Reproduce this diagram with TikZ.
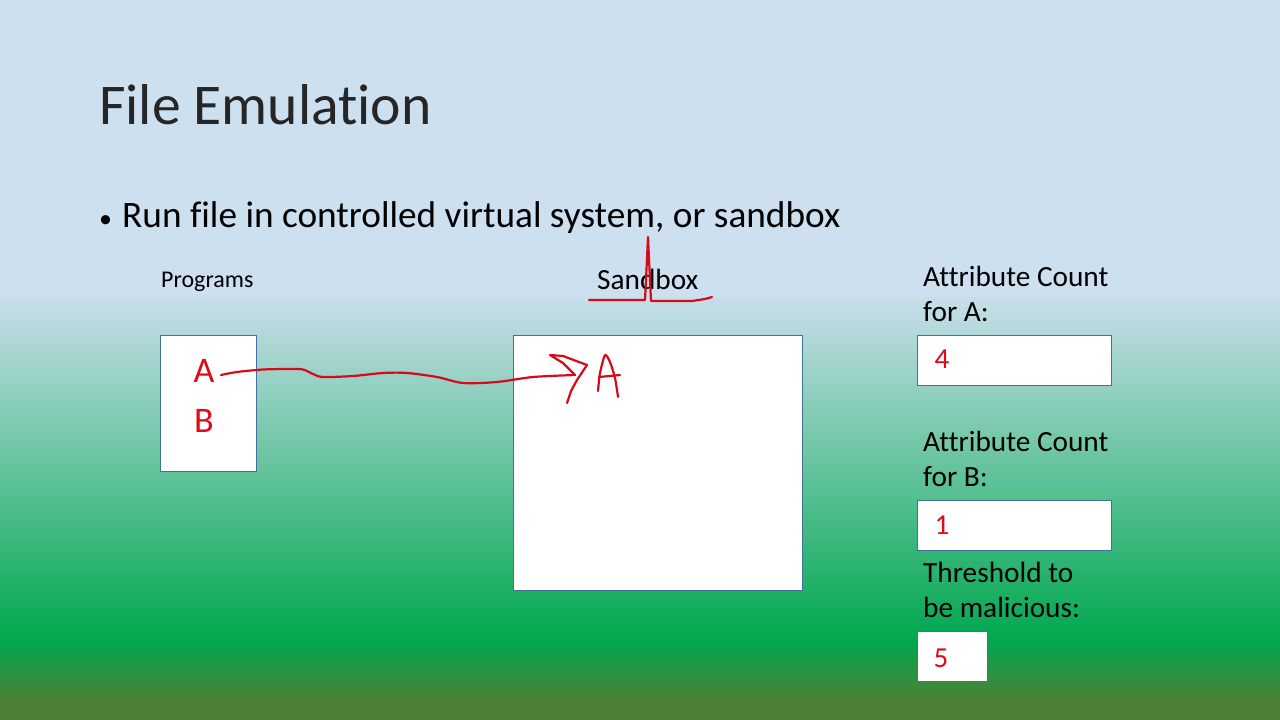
\documentclass[tikz,border=0pt]{standalone}
\usepackage{fontspec}
\setmainfont[RawFeature={-liga}]{Carlito}
\usetikzlibrary{positioning}
\definecolor{sky2}{RGB}{205, 224, 240}
\definecolor{sky3}{RGB}{200, 222, 234}
\definecolor{green2}{RGB}{0, 168, 79}
\definecolor{olive2}{RGB}{76, 128, 54}
\definecolor{edge2}{RGB}{65, 113, 156}
\definecolor{red2}{RGB}{225, 10, 25}
\definecolor{ink2}{RGB}{215, 10, 25}
\tikzset{
	panel/.style={draw=edge2, line width=1pt, fill=white, inner sep=0pt, anchor=north west},
	caption/.style={inner sep=0pt, anchor=base west, font=\fontsize{29.3}{35}\selectfont},
	value/.style={inner sep=0pt, anchor=base, text=red2, font=\fontsize{29}{35}\selectfont},
	letter/.style={inner sep=0pt, anchor=base, text=red2, font=\fontsize{36}{43}\selectfont},
	ink/.style={draw=ink2, line width=2.2pt, line cap=round, line join=round},
}
\begin{document}
\begin{tikzpicture}[x=1pt, y=-1pt]
\useasboundingbox (0,0) rectangle (1280,720);
%Background
\fill[sky2] (0,0) rectangle (1280,298);
\shade[top color=sky3, bottom color=green2] (0,297.5) rectangle (1280,640);
\shade[top color=green2, bottom color=olive2] (0,639.5) rectangle (1280,700);
\fill[olive2] (0,699.5) rectangle (1280,720);

%Place the text
\node[inner sep=0pt, anchor=base west, font=\fontsize{57.6}{70}\selectfont, text=black!85] (title) at (99,124) {File Emulation};
\node[inner sep=0pt, anchor=base west, font=\fontsize{37.3}{44}\selectfont] (bullet) at (99,227) {\makebox[23pt][l]{\fontsize{26}{30}\selectfont •}Run file in controlled virtual system, or sandbox};
\node[inner sep=0pt, anchor=base west, font=\fontsize{24}{29}\selectfont] (programs) at (161,287) {Programs};
\node[caption] (sandbox) at (597,289) {Sandbox};

%Place the boxes
\node[panel, minimum width=96pt, minimum height=136pt] (progbox) at (160,334.5) {};
\node[panel, minimum width=289pt, minimum height=255pt] (sandboxbox) at (512.5,334.5) {};
\node[panel, minimum width=194pt, minimum height=50pt] (countA) at (916.5,334.5) {};
\node[panel, minimum width=194pt, minimum height=50pt] (countB) at (916.5,499.5) {};
\node[panel, minimum width=70pt, minimum height=50pt] (limit) at (916.5,630.5) {};

\node[letter] (A) at (204,382) {A};
\node[letter] (B) at (204,432) {B};

\node[caption] (labelA) at (923,286) {Attribute Count};
\node[caption] (labelA2) at (923,321) {for A:};
\node[caption] (labelB) at (923,451) {Attribute Count};
\node[caption] (labelB2) at (923,486) {for B:};
\node[caption] (labelL) at (923,582) {Threshold to};
\node[caption] (labelL2) at (923,617) {be malicious:};

\node[value] (valA) at (942,368) {4};
\node[value] (valB) at (942,534) {1};
\node[value] (valL) at (941,667) {5};

%Handwriting
\coordinate (inkstart) at (221,375);
\coordinate (inkend) at (575,375);
\draw[ink] plot[smooth, tension=0.5] coordinates {(inkstart) (237,372) (263,369.5) (290,369) (303,369.5)
	(313,374) (323,377) (353,376) (383,373) (407,373) (437,377) (463,383) (497,382) (533,377) (inkend)};
\draw[ink] (inkend) -- (563,363) -- (550,355) -- (563,356) -- (587,365) -- (577,380) -- (571,391) -- (567,403);
\draw[ink] plot[smooth, tension=0.4] coordinates {(598,391) (600,373) (605,355) (610,362) (615,378) (618,397)};
\draw[ink] (599,377) -- (620,375);
\draw[ink] (589,300) -- (645,300) -- (646,280) -- (648,237) -- (650,280) -- (651,301) -- (692,301) -- (705,299) -- (712,297);
\end{tikzpicture}
\end{document}
